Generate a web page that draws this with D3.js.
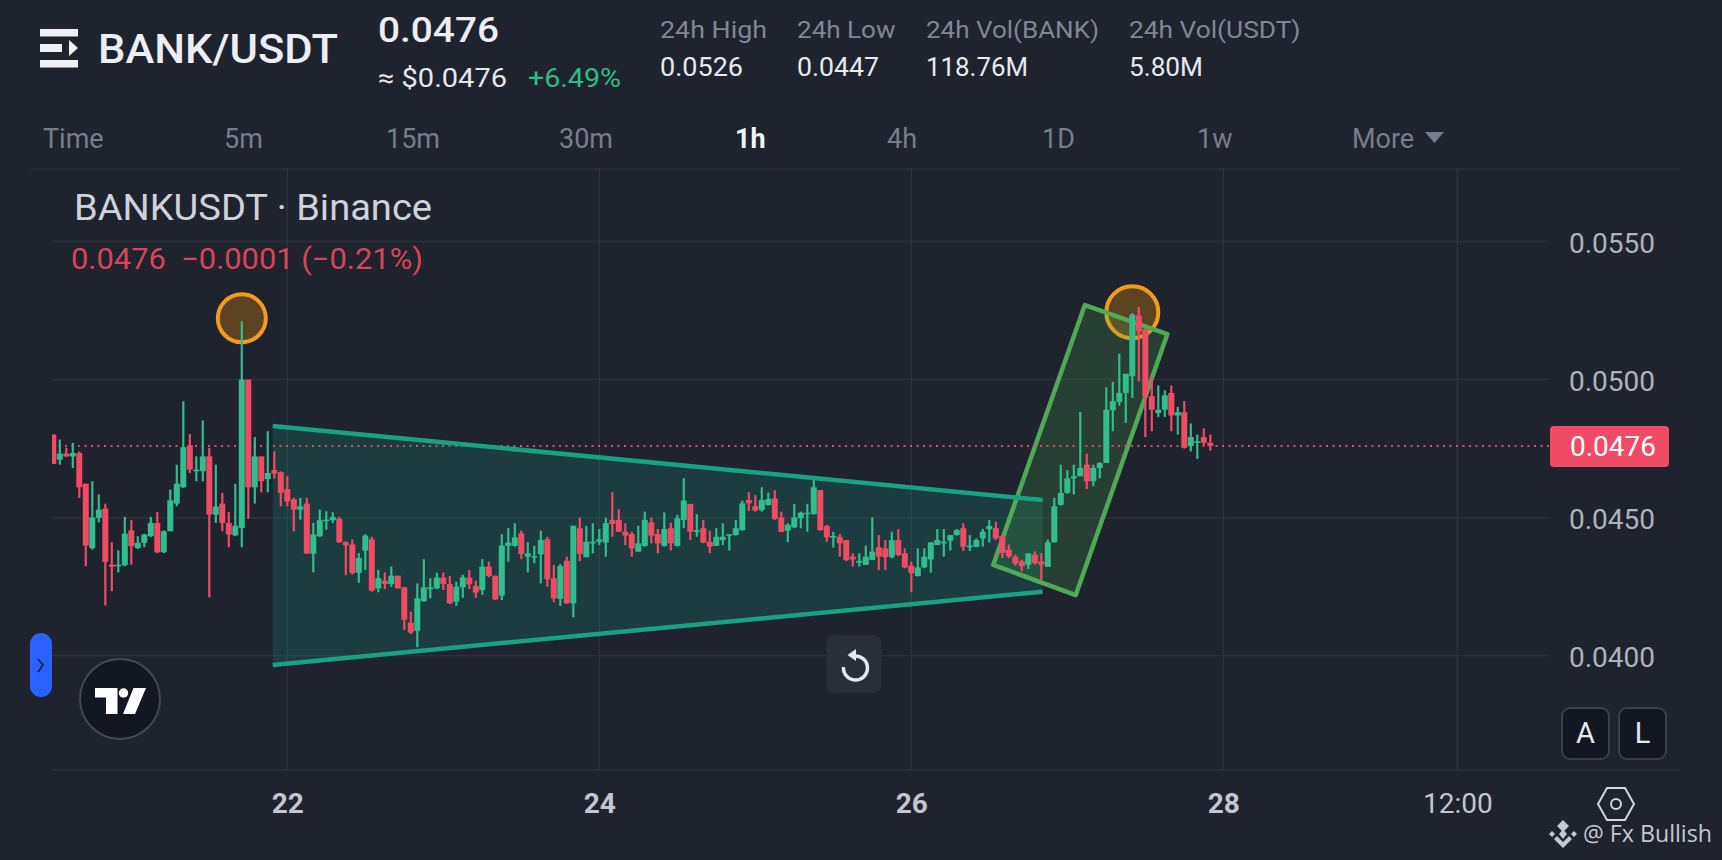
<!DOCTYPE html>
<html>
<head>
<meta charset="utf-8">
<script src="https://cdn.jsdelivr.net/npm/d3@7"></script>
<style>
html, body { margin: 0; padding: 0; background: #1f232e; overflow: hidden; }
svg { display: block; }
text { font-family: Roboto, sans-serif; }
</style>
</head>
<body>
<svg id="chart" width="1722" height="860"></svg>
<script>
// hourly candles, hour 0 = midnight of the 22nd
var firstHour = -36;
var opens = [
0.04801,0.04710,0.04732,0.04722,0.04734,0.04623,0.04390,0.04499,0.04533,0.04330,
0.04324,0.04328,0.04454,0.04390,0.04409,0.04433,0.04481,0.04375,0.04451,0.04551,
0.04610,0.04762,0.04668,0.04668,0.04722,0.04511,0.04551,0.04481,0.04436,0.04463,
0.05000,0.04610,0.04722,0.04640,0.04672,0.04665,0.04604,0.04566,0.04529,0.04551,
0.04370,0.04433,0.04491,0.04491,0.04496,0.04411,0.04403,0.04300,0.04381,0.04422,
0.04244,0.04272,0.04260,0.04290,0.04248,0.04120,0.04090,0.04198,0.04241,0.04244,
0.04283,0.04260,0.04196,0.04248,0.04283,0.04253,0.04238,0.04323,0.04290,0.04218,
0.04398,0.04398,0.04443,0.04359,0.04357,0.04367,0.04422,0.04281,0.04206,0.04344,
0.04190,0.04462,0.04357,0.04407,0.04413,0.04410,0.04492,0.04492,0.04449,0.04441,
0.04377,0.04398,0.04483,0.04441,0.04398,0.04462,0.04398,0.04492,0.04550,0.04449,
0.04462,0.04413,0.04398,0.04419,0.04435,0.04437,0.04455,0.04564,0.04542,0.04528,
0.04546,0.04570,0.04501,0.04453,0.04465,0.04498,0.04513,0.04513,0.04600,0.04470,
0.04428,0.04431,0.04419,0.04359,0.04337,0.04329,0.04347,0.04393,0.04389,0.04357,
0.04419,0.04371,0.04326,0.04289,0.04320,0.04349,0.04401,0.04407,0.04417,0.04437,
0.04462,0.04393,0.04395,0.04425,0.04458,0.04462,0.04433,0.04384,0.04358,0.04342,
0.04330,0.04366,0.04342,0.04322,0.04411,0.04547,0.04590,0.04642,0.04650,0.04692,
0.04632,0.04680,0.04698,0.04889,0.04919,0.04952,0.05012,0.05232,0.05181,0.04940,
0.04879,0.04891,0.04952,0.04870,0.04882,0.04759,0.04771,0.04792,0.04771];
var highs = [
0.04801,0.04783,0.04753,0.04771,0.04740,0.04623,0.04632,0.04584,0.04551,0.04411,
0.04382,0.04503,0.04491,0.04433,0.04442,0.04503,0.04521,0.04454,0.04602,0.04692,
0.04922,0.04803,0.04722,0.04852,0.04753,0.04692,0.04590,0.04521,0.04623,0.05211,
0.05000,0.04792,0.04722,0.04813,0.04740,0.04668,0.04650,0.04572,0.04572,0.04572,
0.04481,0.04529,0.04523,0.04520,0.04503,0.04415,0.04421,0.04372,0.04440,0.04431,
0.04311,0.04302,0.04323,0.04290,0.04250,0.04160,0.04262,0.04350,0.04281,0.04301,
0.04302,0.04289,0.04268,0.04293,0.04311,0.04272,0.04350,0.04341,0.04290,0.04440,
0.04462,0.04480,0.04453,0.04411,0.04398,0.04453,0.04431,0.04329,0.04332,0.04359,
0.04471,0.04501,0.04470,0.04480,0.04459,0.04500,0.04592,0.04530,0.04480,0.04449,
0.04471,0.04522,0.04500,0.04459,0.04519,0.04482,0.04510,0.04643,0.04550,0.04513,
0.04492,0.04453,0.04462,0.04480,0.04441,0.04492,0.04562,0.04592,0.04582,0.04610,
0.04591,0.04600,0.04522,0.04480,0.04550,0.04522,0.04550,0.04649,0.04600,0.04474,
0.04449,0.04441,0.04419,0.04371,0.04371,0.04399,0.04501,0.04437,0.04419,0.04449,
0.04459,0.04389,0.04341,0.04389,0.04389,0.04411,0.04459,0.04459,0.04437,0.04459,
0.04480,0.04437,0.04425,0.04459,0.04492,0.04486,0.04439,0.04403,0.04366,0.04348,
0.04372,0.04378,0.04372,0.04421,0.04572,0.04692,0.04672,0.04692,0.04883,0.04732,
0.04692,0.04701,0.04972,0.04992,0.05094,0.05021,0.05241,0.05263,0.05187,0.05012,
0.04979,0.04961,0.04979,0.04901,0.04922,0.04841,0.04801,0.04823,0.04801];
var lows = [
0.04695,0.04692,0.04720,0.04680,0.04572,0.04324,0.04384,0.04483,0.04182,0.04234,
0.04302,0.04324,0.04330,0.04387,0.04393,0.04430,0.04372,0.04372,0.04451,0.04541,
0.04608,0.04662,0.04632,0.04632,0.04212,0.04481,0.04451,0.04393,0.04433,0.04393,
0.04496,0.04551,0.04592,0.04592,0.04642,0.04541,0.04541,0.04451,0.04493,0.04370,
0.04302,0.04430,0.04457,0.04481,0.04409,0.04292,0.04294,0.04264,0.04311,0.04232,
0.04230,0.04242,0.04250,0.04244,0.04093,0.04079,0.04031,0.04196,0.04208,0.04241,
0.04238,0.04188,0.04181,0.04210,0.04242,0.04210,0.04220,0.04284,0.04202,0.04202,
0.04341,0.04395,0.04350,0.04302,0.04335,0.04262,0.04250,0.04194,0.04181,0.04188,
0.04139,0.04343,0.04357,0.04371,0.04401,0.04359,0.04431,0.04449,0.04401,0.04359,
0.04377,0.04395,0.04407,0.04371,0.04395,0.04381,0.04395,0.04462,0.04419,0.04431,
0.04407,0.04371,0.04398,0.04401,0.04381,0.04435,0.04453,0.04524,0.04522,0.04522,
0.04544,0.04492,0.04447,0.04411,0.04462,0.04462,0.04449,0.04511,0.04453,0.04413,
0.04392,0.04359,0.04343,0.04323,0.04323,0.04329,0.04347,0.04311,0.04311,0.04353,
0.04361,0.04317,0.04230,0.04287,0.04317,0.04301,0.04401,0.04359,0.04381,0.04435,
0.04380,0.04380,0.04393,0.04395,0.04410,0.04419,0.04354,0.04354,0.04327,0.04306,
0.04314,0.04330,0.04273,0.04322,0.04409,0.04544,0.04587,0.04584,0.04650,0.04604,
0.04614,0.04642,0.04698,0.04813,0.04906,0.04843,0.04934,0.04994,0.04792,0.04813,
0.04865,0.04865,0.04813,0.04801,0.04750,0.04740,0.04713,0.04762,0.04743];
var closes = [
0.04695,0.04732,0.04722,0.04734,0.04610,0.04399,0.04501,0.04529,0.04340,0.04322,
0.04330,0.04442,0.04397,0.04409,0.04439,0.04481,0.04375,0.04451,0.04563,0.04623,
0.04755,0.04674,0.04674,0.04722,0.04511,0.04541,0.04481,0.04439,0.04471,0.05000,
0.04610,0.04722,0.04632,0.04662,0.04660,0.04590,0.04559,0.04529,0.04541,0.04370,
0.04439,0.04491,0.04493,0.04503,0.04411,0.04400,0.04300,0.04354,0.04435,0.04236,
0.04281,0.04260,0.04290,0.04244,0.04130,0.04084,0.04208,0.04248,0.04248,0.04283,
0.04260,0.04190,0.04250,0.04284,0.04259,0.04229,0.04323,0.04289,0.04204,0.04399,
0.04410,0.04429,0.04369,0.04371,0.04361,0.04419,0.04277,0.04208,0.04325,0.04190,
0.04471,0.04369,0.04413,0.04413,0.04422,0.04480,0.04477,0.04449,0.04435,0.04389,
0.04407,0.04492,0.04435,0.04407,0.04459,0.04407,0.04498,0.04562,0.04449,0.04455,
0.04410,0.04395,0.04431,0.04431,0.04440,0.04462,0.04552,0.04552,0.04526,0.04564,
0.04568,0.04495,0.04449,0.04474,0.04501,0.04518,0.04518,0.04610,0.04455,0.04429,
0.04434,0.04407,0.04347,0.04349,0.04344,0.04359,0.04377,0.04359,0.04357,0.04419,
0.04365,0.04320,0.04299,0.04320,0.04359,0.04411,0.04419,0.04413,0.04437,0.04455,
0.04395,0.04399,0.04419,0.04449,0.04470,0.04425,0.04372,0.04360,0.04334,0.04324,
0.04370,0.04336,0.04330,0.04411,0.04541,0.04590,0.04642,0.04650,0.04680,0.04632,
0.04680,0.04698,0.04891,0.04922,0.04952,0.05021,0.05235,0.05175,0.04940,0.04891,
0.04891,0.04943,0.04870,0.04882,0.04753,0.04792,0.04777,0.04771,0.04760];

var lastPrice = 0.0476;
var priceTicks = [0.04, 0.045, 0.05, 0.055];
var timeTicks = [0, 48, 96, 144, 180];
var timeLabels = ["22", "24", "26", "28", "12:00"];

// drawings on the chart, as [hour, price]
var triangleTop = [[-2.25, 0.04832], [116.2, 0.04564]];
var triangleBottom = [[-2.25, 0.03967], [116.2, 0.04232]];
var channel = [[122.7, 0.0527], [135.4, 0.05165], [121.3, 0.0422], [108.6, 0.04329]];
var highlights = [[-7, 0.05222, 24], [130, 0.05244, 26]];

var upColor = "#31bd8d";
var downColor = "#f04a64";
var gridColor = "#2c313c";

var svg = d3.select("#chart");
var x = d3.scaleLinear().domain([0, 144]).range([287.3, 1223.3]);
var y = d3.scaleLinear().domain([0.04, 0.055]).range([655.8, 241.5]);
var line = d3.line().x(function(d){ return x(d[0]); }).y(function(d){ return y(d[1]); });

svg.append("defs").append("clipPath").attr("id", "plot")
    .append("rect").attr("x", 52).attr("y", 169).attr("width", 1498).attr("height", 601);

// grid
var grid = svg.append("g").attr("stroke", gridColor).attr("stroke-width", 1.5);
grid.selectAll(".gy").data(priceTicks).enter().append("line")
    .attr("x1", 52).attr("x2", 1550).attr("y1", y).attr("y2", y);
grid.selectAll(".gx").data(timeTicks).enter().append("line")
    .attr("x1", x).attr("x2", x).attr("y1", 169).attr("y2", 770);
grid.append("line").attr("x1", 30).attr("x2", 1680).attr("y1", 169).attr("y2", 169);
grid.append("line").attr("x1", 52).attr("x2", 1680).attr("y1", 770).attr("y2", 770);

// triangle pattern
svg.append("path")
    .attr("d", line(triangleTop.concat(triangleBottom.slice().reverse())) + "Z")
    .attr("fill", "#16a085").attr("fill-opacity", 0.2);

// highlight circles
svg.selectAll(".mark").data(highlights).enter().append("circle")
    .attr("cx", function(d){ return x(d[0]); })
    .attr("cy", function(d){ return y(d[1]); })
    .attr("r", function(d){ return d[2]; })
    .attr("fill", "#ff9800").attr("fill-opacity", 0.28)
    .attr("stroke", "#f29c1f").attr("stroke-width", 4);

// channel box
svg.append("path").attr("d", line(channel) + "Z")
    .attr("fill", "#4caf50").attr("fill-opacity", 0.2)
    .attr("stroke", "#4eaa55").attr("stroke-width", 4.5).attr("stroke-linejoin", "round");

// last price line
svg.append("line").attr("x1", 52).attr("x2", 1550).attr("y1", y(lastPrice)).attr("y2", y(lastPrice))
    .attr("stroke", "#d4505f").attr("stroke-width", 2).attr("stroke-dasharray", "2 4.5");

// candles
var candles = svg.append("g").attr("clip-path", "url(#plot)");
var bar = candles.selectAll("g").data(opens).enter().append("g");
function colorOf(d, i) { return closes[i] >= opens[i] ? upColor : downColor; }
function xOf(d, i) { return x(firstHour + i); }
bar.append("line")
    .attr("x1", xOf).attr("x2", xOf)
    .attr("y1", function(d, i){ return y(highs[i]); })
    .attr("y2", function(d, i){ return y(lows[i]); })
    .attr("stroke", colorOf).attr("stroke-width", 2.2);
bar.append("rect")
    .attr("x", function(d, i){ return xOf(d, i) - 3; })
    .attr("width", 6)
    .attr("y", function(d, i){ return y(Math.max(opens[i], closes[i])); })
    .attr("height", function(d, i){ return Math.max(1.5, Math.abs(y(opens[i]) - y(closes[i]))); })
    .attr("fill", colorOf);

// trend lines
svg.selectAll(".trend").data([triangleTop, triangleBottom]).enter().append("path")
    .attr("d", line).attr("fill", "none").attr("stroke", "#17a383").attr("stroke-width", 4.5);

// axes
var yAxis = d3.axisRight(y).tickValues(priceTicks).tickFormat(d3.format(".4f")).tickSize(0).tickPadding(0);
var yG = svg.append("g").attr("transform", "translate(1569,0)").call(yAxis);
yG.select(".domain").remove();
yG.selectAll("text").attr("fill", "#aeb3bd").style("font-size", "28px").attr("dy", "0.38em");

var xAxis = d3.axisBottom(x).tickValues(timeTicks)
    .tickFormat(function(d, i){ return timeLabels[i]; }).tickSize(0).tickPadding(0);
var xG = svg.append("g").attr("transform", "translate(0,790)").call(xAxis);
xG.select(".domain").remove();
xG.selectAll("text").attr("fill", "#c3c6cf").style("font-size", "28px")
    .style("font-weight", function(d, i){ return i < 4 ? 700 : 400; })
    .attr("dy", "0.71em").attr("y", 3);

// fit stretches the text to the width it has in the picture
function label(txt, px, py, size, color, weight, anchor, fit) {
    var t = svg.append("text").attr("x", px).attr("y", py).text(txt)
        .attr("fill", color).style("font-size", size + "px")
        .style("font-weight", weight || 400).attr("text-anchor", anchor || "start");
    if (fit) t.attr("textLength", fit).attr("lengthAdjust", "spacingAndGlyphs");
    return t;
}

// last price tag
svg.append("rect").attr("x", 1550).attr("y", 426).attr("width", 119).attr("height", 41).attr("rx", 4).attr("fill", downColor);
label("0.0476", 1613, 456, 28, "#ffffff", 400, "middle");

// header
var icon = svg.append("g").attr("fill", "#eef0f4");
icon.append("rect").attr("x", 40).attr("y", 29).attr("width", 38).attr("height", 7.5);
icon.append("rect").attr("x", 40).attr("y", 44).attr("width", 22).attr("height", 8);
icon.append("path").attr("d", "M69,40 L78,48 L69,56 Z");
icon.append("rect").attr("x", 40).attr("y", 60).attr("width", 38).attr("height", 7.5);
label("BANK/USDT", 98, 63, 41, "#eceef3", 500, "start", 240);
label("0.0476", 378, 42, 35, "#eceef3", 500, "start", 121);
label("≈ $0.0476", 378, 87, 26, "#e6e8ee", 400, "start", 129);
label("+6.49%", 528, 87, 26, "#2ebd85", 400, "start", 93);

var statNames = ["24h High", "24h Low", "24h Vol(BANK)", "24h Vol(USDT)"];
var statValues = ["0.0526", "0.0447", "118.76M", "5.80M"];
var statX = [660, 797, 926, 1129];
var statNameWidths = [107, 98.5, 173, 171.5];
var statValueWidths = [83, 82, 102, 74];
statNames.forEach(function(s, i){
    label(s, statX[i], 38, 24, "#7f8694", 400, "start", statNameWidths[i]);
    label(statValues[i], statX[i], 76, 25, "#e8eaef", 400, "start", statValueWidths[i]);
});

// interval tabs
var tabs = ["Time", "5m", "15m", "30m", "1h", "4h", "1D", "1w", "More"];
var tabX = [43, 224, 386, 559, 735, 887, 1042, 1197, 1352];
tabs.forEach(function(t, i){
    label(t, tabX[i], 148, 27, t == "1h" ? "#f0f2f5" : "#777d8a", t == "1h" ? 700 : 400);
});
svg.append("path").attr("d", "M1425,132 L1444,132 L1434.5,143 Z").attr("fill", "#777d8a");

// chart legend
label("BANKUSDT · Binance", 74, 220, 37, "#cfd2da", 400, "start", 358);
label("0.0476\u00a0\u00a0−0.0001 (−0.21%)", 71, 269, 29, "#d9445a", 400, "start", 352);

// side tab
svg.append("rect").attr("x", 30).attr("y", 633).attr("width", 22).attr("height", 64).attr("rx", 11).attr("fill", "#2962ff");
svg.append("path").attr("d", "M38,659 L43,665 L38,672").attr("fill", "none").attr("stroke", "#152040").attr("stroke-width", 1.6);

// TV logo
var tv = svg.append("g");
tv.append("circle").attr("cx", 120).attr("cy", 699).attr("r", 40).attr("fill", "#131722").attr("stroke", "#444853").attr("stroke-width", 2);
tv.append("path").attr("fill", "#ffffff").attr("d", "M95,688 H117.5 V714 H106 V697.5 H95 Z M146,688 L135,714 H123 L133.5,688 Z");
tv.append("circle").attr("cx", 123.5).attr("cy", 693).attr("r", 4.7).attr("fill", "#ffffff");

// reset button
svg.append("rect").attr("x", 826.5).attr("y", 635).attr("width", 55).attr("height", 58).attr("rx", 8).attr("fill", "#2a2e39");
svg.append("path").attr("d", "M855,656 A12,12 0 1 1 843.5,667").attr("fill", "none").attr("stroke", "#e6e8ee").attr("stroke-width", 3.5);
svg.append("path").attr("d", "M847.5,655 L856,649 L856,661 Z").attr("fill", "#e6e8ee");

// A / L buttons
[["A", 1562], ["L", 1619]].forEach(function(b){
    svg.append("rect").attr("x", b[1]).attr("y", 708).attr("width", 47).attr("height", 51).attr("rx", 8)
        .attr("fill", "#131722").attr("stroke", "#3a3f4b").attr("stroke-width", 2);
    label(b[0], b[1] + 23.5, 743, 29, "#e6e8ee", 400, "middle");
});

// settings hexagon
svg.append("path").attr("d", "M1598,804 L1607,788 H1625 L1634,804 L1625,820 H1607 Z")
    .attr("fill", "none").attr("stroke", "#d1d4dc").attr("stroke-width", 2);
svg.append("circle").attr("cx", 1616).attr("cy", 804).attr("r", 5).attr("fill", "none").attr("stroke", "#d1d4dc").attr("stroke-width", 2);

// watermark
var wm = svg.append("g").attr("fill", "#c5c8d0");
wm.append("path").attr("d", "M1563,820 L1569,826 L1563,832 L1557,826 Z M1563,848 L1554,839 L1557,836 L1563,842 L1569,836 L1572,839 Z M1563,829 L1567,834 L1563,839 L1559,834 Z M1552,831 L1555,834 L1552,837 L1549,834 Z M1574,831 L1577,834 L1574,837 L1571,834 Z");
label("@ Fx Bullish", 1583, 842, 24, "#c5c8d0", 400, "start", 129).style("font-family", "'Open Sans', sans-serif");
</script>
</body>
</html>
